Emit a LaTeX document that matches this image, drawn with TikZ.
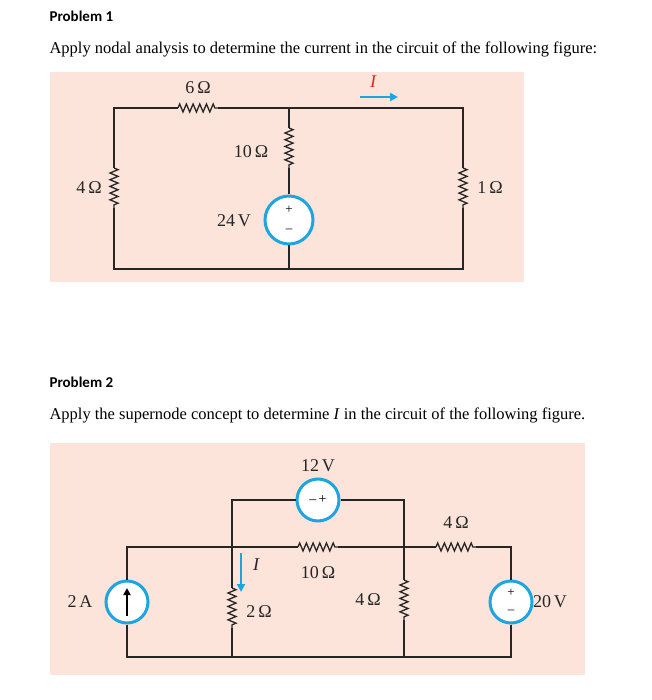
\documentclass[tikz,border=0pt]{standalone}
\usepackage{fontspec}
\setmainfont{Liberation Serif}
\newfontfamily\calfnt{Carlito}
\usetikzlibrary{decorations.pathmorphing,arrows.meta}
\definecolor{bg}{RGB}{252,228,218}
\definecolor{cblue}{RGB}{30,165,225}
\definecolor{ired}{RGB}{220,40,40}
\begin{document}
\begin{tikzpicture}[x=1pt,y=-1pt,
  w/.style={line width=2pt,black!85},
  res/.style={w,line width=1.3pt,decorate,decoration={zigzag,segment length=6.7pt,amplitude=4pt}},
  src/.style={circle,draw=cblue,line width=3pt,fill=white,inner sep=0pt},
  lab/.style={font=\fontsize{18}{20}\selectfont,text=black!85},
  ttl/.style={font=\calfnt\bfseries\fontsize{15}{18}\selectfont,anchor=west},
  txt/.style={font=\fontsize{16.5}{19}\selectfont,anchor=west},
  cur/.style={cblue,line width=2.5pt,-{Triangle[length=8pt,width=8pt]}}]
\useasboundingbox (0,0) rectangle (651,700);
\fill[white] (0,0) rectangle (651,700);
\node[ttl] (t1) at (46,16) {Problem 1};
\node[txt] (q1) at (46,49) {Apply nodal analysis to determine the current in the circuit of the following figure:};
\node[ttl] (t2) at (46,382) {Problem 2};
\node[txt] (q2) at (46,415) {Apply the supernode concept to determine \textit{I} in the circuit of the following figure.};
% ---- circuit 1
\fill[bg] (50,72) rectangle (524,282);
\coordinate (a1) at (114,108); \coordinate (b1) at (289,108); \coordinate (c1) at (463,108);
\coordinate (a2) at (114,269); \coordinate (b2) at (289,269); \coordinate (c2) at (463,269);
\coordinate (r6a) at (178,108); \coordinate (r6b) at (218,108);
\coordinate (r10a) at (289,128); \coordinate (r10b) at (289,168);
\coordinate (r4a) at (114,168); \coordinate (r4b) at (114,208);
\coordinate (r1a) at (463,168); \coordinate (r1b) at (463,208);
\node[src,minimum size=48pt] (v24) at (289,220) {};
\node[font=\fontsize{13}{14}\selectfont] at (289,210) {+};
\node[font=\fontsize{13}{14}\selectfont] at (289,231) {--};
\draw[w] (r4a) -- (a1) -- (r6a) (r6b) -- (c1) -- (r1a) (r1b) -- (c2) -- (a2) -- (r4b);
\draw[w] (b1) -- (r10a) (r10b) -- (v24) (v24) -- (b2);
\draw[res] (r6a) -- (r6b); \draw[res] (r10a) -- (r10b); \draw[res] (r4a) -- (r4b); \draw[res] (r1a) -- (r1b);
\node[lab] at (198,88) {6\,Ω};
\node[lab] at (251,152) {10\,Ω};
\node[lab] at (89,188) {4\,Ω};
\node[lab] at (490,188) {1\,Ω};
\node[lab] at (234,221) {24\,V};
\coordinate (i1a) at (360,97); \coordinate (i1b) at (398,97);
\draw[cur] (i1a) -- (i1b);
\node[lab,text=ired,font=\itshape\fontsize{18}{20}\selectfont] at (373,82) {I};
% ---- circuit 2
\fill[bg] (50,443) rectangle (585,675);
\coordinate (p1) at (127,547); \coordinate (p2) at (127,657);
\coordinate (q1) at (232,500); \coordinate (q2) at (232,657);
\coordinate (s1) at (404,500); \coordinate (s2) at (404,657);
\coordinate (u1) at (511,547); \coordinate (u2) at (511,657);
\coordinate (r10c) at (298,547); \coordinate (r10d) at (338,547);
\coordinate (r4c) at (436,547); \coordinate (r4d) at (476,547);
\coordinate (r2a) at (232,588); \coordinate (r2b) at (232,628);
\coordinate (r4e) at (404,580); \coordinate (r4f) at (404,620);
\node[src,minimum size=42pt] (v12) at (318,500) {};
\node[font=\fontsize{14}{14}\selectfont] at (318,500) {--\,+};
\node[src,minimum size=42pt] (i2) at (127,602) {};
\node[src,minimum size=42pt] (v20) at (511,602) {};
\node[font=\fontsize{13}{14}\selectfont] at (511,593) {+};
\node[font=\fontsize{13}{14}\selectfont] at (511,612) {--};
\coordinate (ara) at (127,616); \coordinate (arb) at (127,588);
\draw[line width=2pt,-{Triangle[length=7pt,width=7pt]}] (ara) -- (arb);
\draw[w] (i2) -- (p1) -- (r10c) (r10d) -- (r4c) (r4d) -- (u1) -- (v20) (v20) -- (u2) -- (p2) -- (i2);
\draw[w] (q2) -- (r2b) (r2a) -- (q1) -- (v12) (v12) -- (s1) -- (r4e) (r4f) -- (s2);
\draw[res] (r10c) -- (r10d); \draw[res] (r4c) -- (r4d); \draw[res] (r2a) -- (r2b); \draw[res] (r4e) -- (r4f);
\node[lab] at (318,466) {12\,V};
\node[lab] at (318,573) {10\,Ω};
\node[lab] at (456,523) {4\,Ω};
\node[lab] at (368,600) {4\,Ω};
\node[lab] at (259,612) {2\,Ω};
\node[lab] at (80,602) {2\,A};
\node[lab] at (550,602) {20\,V};
\coordinate (i2a) at (241,553); \coordinate (i2b) at (241,592);
\draw[cur] (i2a) -- (i2b);
\node[lab,font=\itshape\fontsize{18}{20}\selectfont] at (256,565) {I};
\end{tikzpicture}
\end{document}
